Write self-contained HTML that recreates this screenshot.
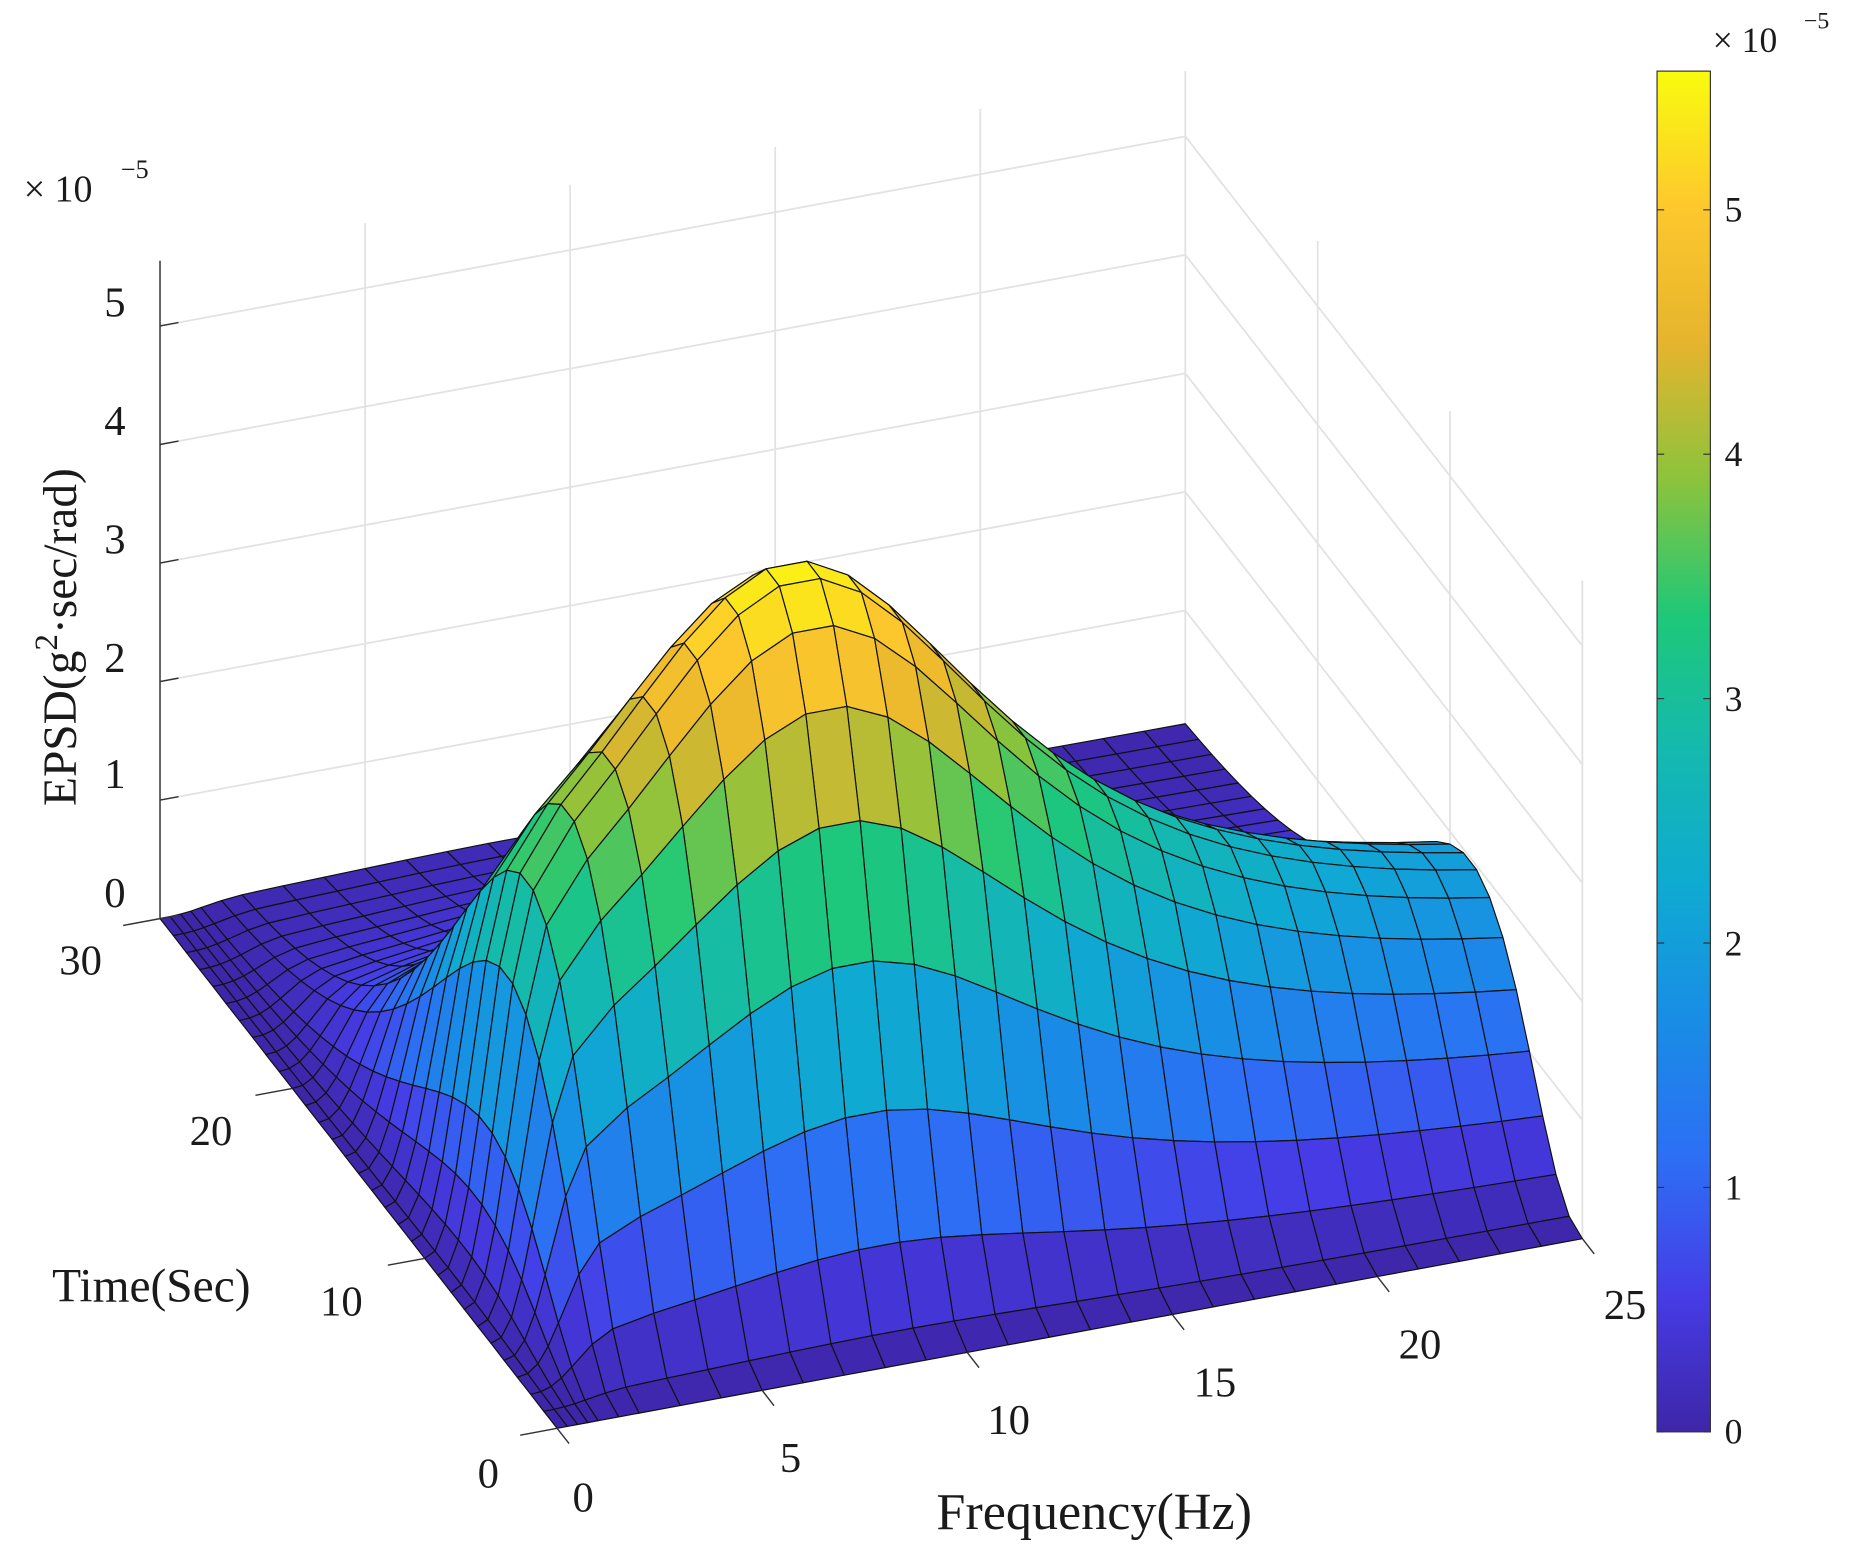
<!DOCTYPE html>
<html><head><meta charset="utf-8"><style>
html,body{margin:0;padding:0;background:#fff;}
svg{display:block;}
text{font-family:"Liberation Serif",serif;fill:#1a1a1a;}
</style></head><body>
<svg id="s" width="1855" height="1553" viewBox="0 0 1565 1310.2" xmlns="http://www.w3.org/2000/svg">
<defs><linearGradient id="cb" x1="0" y1="1" x2="0" y2="0">
<stop offset="0" stop-color="rgb(62,38,168)"/>
<stop offset="0.1" stop-color="rgb(70,60,230)"/>
<stop offset="0.2" stop-color="rgb(45,110,245)"/>
<stop offset="0.3" stop-color="rgb(25,140,230)"/>
<stop offset="0.4" stop-color="rgb(15,170,210)"/>
<stop offset="0.5" stop-color="rgb(20,185,175)"/>
<stop offset="0.6" stop-color="rgb(30,200,120)"/>
<stop offset="0.7" stop-color="rgb(140,195,60)"/>
<stop offset="0.8" stop-color="rgb(230,180,45)"/>
<stop offset="0.9" stop-color="rgb(253,200,45)"/>
<stop offset="1" stop-color="rgb(249,251,14)"/>
</linearGradient></defs>
<g id="grid" stroke="#e2e2e2" stroke-width="1.5" fill="none"></g>
<g id="surf" stroke="#111" stroke-width="1" stroke-linejoin="round"></g>
<g id="ticks" stroke="#333" stroke-width="1.2"></g>
<g font-size="36">
<text x="20" y="170" font-size="32">× 10</text><text x="102" y="150" font-size="22">−5</text>
<text x="88" y="765">0</text><text x="88" y="665">1</text><text x="88" y="567">2</text>
<text x="88" y="467">3</text><text x="88" y="367">4</text><text x="88" y="267">5</text>
<text x="483" y="1275">0</text><text x="658" y="1242">5</text><text x="833" y="1210">10</text>
<text x="1007" y="1178">15</text><text x="1180" y="1146">20</text><text x="1353" y="1113">25</text>
<text x="403" y="1255">0</text><text x="270" y="1110">10</text><text x="160" y="966">20</text><text x="50" y="822">30</text>
<text x="44" y="1098" font-size="40">Time(Sec)</text>
<text x="790" y="1290" font-size="44">Frequency(Hz)</text>
<text transform="translate(64,680) rotate(-90)" font-size="40">EPSD(g<tspan dy="-16" font-size="28">2</tspan><tspan dy="16">·sec/rad)</tspan></text>
</g>
<rect x="1398" y="60" width="45" height="1148" fill="url(#cb)" stroke="#333" stroke-width="1"/>
<g id="cbt" stroke="#333" stroke-width="1"></g>
<g font-size="30">
<text x="1455" y="1218">0</text><text x="1455" y="1012">1</text><text x="1455" y="806">2</text>
<text x="1455" y="600">3</text><text x="1455" y="393">4</text><text x="1455" y="187">5</text>
<text x="1445" y="44" font-size="30">× 10</text><text x="1522" y="24" font-size="20">−5</text>
</g>
</svg>
<script>
(function(){
var NS="http://www.w3.org/2000/svg";
var O=[470,1205],F=[865/25,-160/25],T=[-335/30,-430/30],Z=100;
function P(f,t,z){return [O[0]+F[0]*f+T[0]*t, O[1]+F[1]*f+T[1]*t-Z*z];}
function ln(g,a,b){var l=document.createElementNS(NS,"line");l.setAttribute("x1",a[0].toFixed(1));l.setAttribute("y1",a[1].toFixed(1));l.setAttribute("x2",b[0].toFixed(1));l.setAttribute("y2",b[1].toFixed(1));g.appendChild(l);}
var grid=document.getElementById("grid"),ticks=document.getElementById("ticks");
var zt=5.55;
for(var f=0;f<=25;f+=5) ln(grid,P(f,30,0),P(f,30,zt));
for(var z=0;z<=5;z++) ln(grid,P(0,30,z),P(25,30,z));
for(var t=0;t<30;t+=10) ln(grid,P(25,t,0),P(25,t,zt));
for(var z=0;z<=5;z++) ln(grid,P(25,0,z),P(25,30,z));
for(var f=5;f<=25;f+=5) ln(grid,P(f,0,0),P(f,30,0));
for(var t=10;t<=30;t+=10) ln(grid,P(0,t,0),P(25,t,0));
ln(ticks,P(0,30,0),P(0,30,zt));
for(var z=0;z<=5;z++) ln(ticks,P(0,30,z),P(0.45,30,z));
for(var f=0;f<=25;f+=5) ln(ticks,P(f,0,0),P(f,-0.9,0));
for(var t=0;t<=30;t+=10) ln(ticks,P(0,t,0),P(-0.9,t,0));
function G(f){return (1-Math.exp(-Math.pow(f/1.3,2.5)))*(0.26+0.74/(1+Math.pow((f-8.5)/6.5,2)));}
function E(t){var a=3,tp=8.5;return Math.pow(t/tp,a)*Math.exp(a*(1-t/tp));}
var gm=0;for(var f=0;f<=25;f+=0.05)gm=Math.max(gm,G(f));
function S(f,t){return 5.5*E(t)*G(f)/gm;}
var cm=[[0,62,38,168],[0.1,70,60,230],[0.2,45,110,245],[0.3,25,140,230],[0.4,15,170,210],[0.5,20,185,175],[0.6,30,200,120],[0.7,140,195,60],[0.8,230,180,45],[0.9,253,200,45],[1,249,251,14]];
function col(v){v=Math.max(0,Math.min(1,v/5.57));for(var i=1;i<cm.length;i++){if(v<=cm[i][0]){var a=cm[i-1],b=cm[i],u=(v-a[0])/(b[0]-a[0]);return "rgb("+Math.round(a[1]+u*(b[1]-a[1]))+","+Math.round(a[2]+u*(b[2]-a[2]))+","+Math.round(a[3]+u*(b[3]-a[3]))+")";}}return "rgb(249,251,14)";}
var fs=[0,0.25,0.5,0.75,1,1.5,2];for(var f=3;f<=25;f++)fs.push(f);
var ts=[];for(var t=0;t<=30;t++)ts.push(t);
var faces=[];
for(var i=0;i<fs.length-1;i++)for(var j=0;j<ts.length-1;j++){
 var f0=fs[i],f1=fs[i+1],t0=ts[j],t1=ts[j+1];
 var z00=S(f0,t0),z10=S(f1,t0),z11=S(f1,t1),z01=S(f0,t1);
 var pts=[P(f0,t0,z00),P(f1,t0,z10),P(f1,t1,z11),P(f0,t1,z01)];
 var fc=(f0+f1)/2,tc=(t0+t1)/2;
 faces.push({d:6.4*fc+14.33*tc,p:pts,c:col((z00+z10+z11+z01)/4)});
}
faces.sort(function(a,b){return b.d-a.d;});
var sg=document.getElementById("surf");
faces.forEach(function(q){var pg=document.createElementNS(NS,"polygon");pg.setAttribute("points",q.p.map(function(p){return p[0].toFixed(1)+","+p[1].toFixed(1);}).join(" "));pg.setAttribute("fill",q.c);sg.appendChild(pg);});
var cbt=document.getElementById("cbt");
for(var k=0;k<=5;k++){var y=1208-206.2*k;ln(cbt,[1398,y],[1404,y]);ln(cbt,[1437,y],[1443,y]);}
})();
</script>
</body></html>
